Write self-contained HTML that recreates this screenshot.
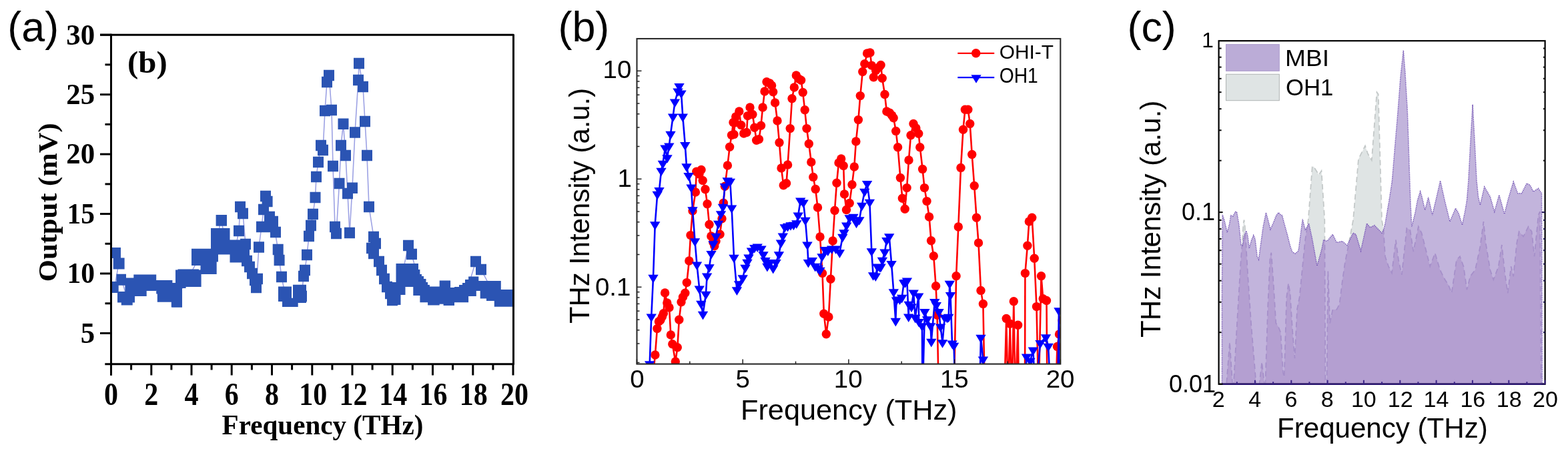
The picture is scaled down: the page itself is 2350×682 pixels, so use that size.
<!DOCTYPE html>
<html><head><meta charset="utf-8"><title>THz spectra</title><style>html,body{margin:0;padding:0;background:#fff;overflow:hidden}svg{display:block;filter:blur(0.5px)}</style></head><body>
<svg width="2350" height="682" viewBox="0 0 2350 682">
<rect width="2350" height="682" fill="#fff"/>
<g id="pa">
<polyline fill="none" stroke="#9da2e4" stroke-width="1.6" points="175,380 178,394 172,430 182,419 190,445 195,427 210,420 226,420 245,437 265,445 282,417 299,385 312,392 325,360 331,330 340,365 352,377 358,346 360,310 364,320 368,366 370,391 374,400 378,410 382,420 386,418 384,431 388,370.5 395,316 398,294 401,304 404,330 412,346 416.7,374 418.6,390 422,415 427,440 437,452 447,450 452,444 455,414 457,405 460,382 463,354 466,338 469,321 472.5,296 474,265 477,243 481,218 484,225 487,166 490,123 493,113 497,165 499,249 502,340 504,350 508.5,275 511,218 514.5,185.6 518,233 521,290 524,349 528,281.6 532,198.5 537,120 538,95 544,130 547,182 550,233 553,310 560,355 563,365 557,372 560,380 568,392 572,405 576,418 580,430 585,440 588,450 600,425 612,368 617,381 630,430 660,440 700,435 713,392 721,404 740,440 760,450"/>
<path fill="#2b54b3" d="M166.5,371H181V387H166.5zM169.7,386.6H186.6V403.5H169.7zM166.5,422H177.7V439H166.5zM174.5,410.8H189V427.7H174.5zM176,437H202V453.5H176zM181.8,453H198.7V457.6H181.8zM187.4,416.5H200.5V440H187.4zM200.3,411.6H234.2V436H200.3zM200.3,436H219.7V443.9H200.3zM234.2,420H258.4V440.6H234.2zM235.8,440H256.8V452.7H235.8zM256.8,424H266V460.5H256.8zM257.7,424H273V460.7H257.7zM263,404.6H278.6V432H263zM278.6,404.6H301.6V430H278.6zM266.5,403.5H298V410H266.5zM287,372.7H311.5V398H287zM300.5,372.7H324.7V411H300.5zM316,342H344.5V381.5H316zM316,381.5H327V392.5H316zM344.5,359.6H362V393.6H344.5zM323.6,322H340V338.7H323.6zM417,429.5H437V452H417zM423,446.7H446.7V460H423zM439,426.7H459V454H439zM584,423H593.5V457H584zM593.5,395H600.5V457H593.5zM600.5,395H607.5V442H600.5zM607.5,395H619.3V430H607.5zM619.3,395H627V443H619.3zM627,404H629.4V443H627zM629.4,411H632V453.3H629.4zM632,414H635V453.3H632zM635,418H638.5V453.3H635zM638.5,423H641.1V453.3H638.5zM641.1,427H644V457.4H641.1zM644,429.5H658.7V457.4H644zM658.7,420.5H664.6V455.7H658.7zM664.6,420.5H675.1V458H664.6zM675.1,431H681V458H675.1zM681,430H688V453.3H681zM688,427H693V453.3H688zM693,424H697V453.3H693zM697,419H702.1V453.3H697zM702.1,414.6H713.8V444H702.1zM713.8,414.6H717.3V436H713.8zM717.3,421H719.7V436H717.3zM719.7,421H729V447.5H719.7zM729,421H740.8V451H729zM740.8,421H750.8V459.8H740.8zM750.8,434H768V459.8H750.8zM352,301.8h16v16.5h-16zM356,311.8h16v16.5h-16zM350,337.8h16v16.5h-16zM360,357.8h16v16.5h-16zM358,369.8h16v16.5h-16zM362,382.8h16v16.5h-16zM366,391.8h16v16.5h-16zM370,401.8h16v16.5h-16zM374,411.8h16v16.5h-16zM378,409.8h16v16.5h-16zM376,422.8h16v16.5h-16zM380,362.3h16v16.5h-16zM390,285.8h16v16.5h-16zM392.6,293.8h16v16.5h-16zM387,305.8h16v16.5h-16zM396,316.8h16v16.5h-16zM401,323.8h16v16.5h-16zM384,331.8h16v16.5h-16zM392,331.8h16v16.5h-16zM405,339.8h16v16.5h-16zM408.7,365.8h16v16.5h-16zM410.6,381.8h16v16.5h-16zM414,406.8h16v16.5h-16zM444,435.8h16v16.5h-16zM447,405.8h16v16.5h-16zM449,396.8h16v16.5h-16zM452,373.8h16v16.5h-16zM455,345.8h16v16.5h-16zM458,329.8h16v16.5h-16zM461,312.8h16v16.5h-16zM464.5,287.8h16v16.5h-16zM466,256.8h16v16.5h-16zM469,234.8h16v16.5h-16zM473,209.8h16v16.5h-16zM476,216.8h16v16.5h-16zM479,157.8h16v16.5h-16zM482,114.8h16v16.5h-16zM485,104.8h16v16.5h-16zM489,156.8h16v16.5h-16zM491,240.8h16v16.5h-16zM494,331.8h16v16.5h-16zM496,341.8h16v16.5h-16zM500.5,266.8h16v16.5h-16zM503,209.8h16v16.5h-16zM506.5,177.4h16v16.5h-16zM510,224.8h16v16.5h-16zM513,281.8h16v16.5h-16zM516,340.8h16v16.5h-16zM520,273.4h16v16.5h-16zM524,190.3h16v16.5h-16zM529,111.8h16v16.5h-16zM530,86.8h16v16.5h-16zM536,121.8h16v16.5h-16zM539,173.8h16v16.5h-16zM542,224.8h16v16.5h-16zM545,301.8h16v16.5h-16zM552,346.8h16v16.5h-16zM555,356.8h16v16.5h-16zM549,363.8h16v16.5h-16zM552,371.8h16v16.5h-16zM560,383.8h16v16.5h-16zM564,396.8h16v16.5h-16zM568,409.8h16v16.5h-16zM572,421.8h16v16.5h-16zM577,431.8h16v16.5h-16zM580,441.8h16v16.5h-16zM604,359.8h16v16.5h-16zM609,372.8h16v16.5h-16zM705,383.8h16v16.5h-16zM713,395.8h16v16.5h-16z"/>
<g stroke="#000" stroke-width="3.0" fill="none">
<path stroke-linejoin="round" d="M150,52.2 H769.5 V545.7 H157.3"/>
<path d="M166.5,50.7 V562.7"/>
<path d="M150,52.2 H166.5"/>
<path d="M157.5,96.9 H166.5"/>
<path d="M150,141.7 H166.5"/>
<path d="M157.5,186.4 H166.5"/>
<path d="M150,231.1 H166.5"/>
<path d="M157.5,275.9 H166.5"/>
<path d="M150,320.6 H166.5"/>
<path d="M157.5,365.3 H166.5"/>
<path d="M150,410 H166.5"/>
<path d="M157.5,454.8 H166.5"/>
<path d="M150,499.5 H166.5"/>
<path d="M166.5,545.7 V562.5"/>
<path d="M196.6,545.7 V554.5"/>
<path d="M226.8,545.7 V562.5"/>
<path d="M256.9,545.7 V554.5"/>
<path d="M287,545.7 V562.5"/>
<path d="M317.1,545.7 V554.5"/>
<path d="M347.2,545.7 V562.5"/>
<path d="M377.4,545.7 V554.5"/>
<path d="M407.5,545.7 V562.5"/>
<path d="M437.6,545.7 V554.5"/>
<path d="M467.8,545.7 V562.5"/>
<path d="M497.9,545.7 V554.5"/>
<path d="M528,545.7 V562.5"/>
<path d="M558.1,545.7 V554.5"/>
<path d="M588.2,545.7 V562.5"/>
<path d="M618.4,545.7 V554.5"/>
<path d="M648.5,545.7 V562.5"/>
<path d="M678.6,545.7 V554.5"/>
<path d="M708.8,545.7 V562.5"/>
<path d="M738.9,545.7 V554.5"/>
<path d="M769,545.7 V562.5"/>
</g>
</g>
<g id="pb">
<clipPath id="cb"><rect x="954.5" y="58" width="634.8" height="487.6"/></clipPath>
<g clip-path="url(#cb)">
<polyline fill="none" stroke="#ff0000" stroke-width="2.6" stroke-linejoin="round" points="977,580 981.9,532 984.9,492.6 987.4,482 989.9,479.7 992.4,474.7 994.4,469.7 996.6,439 999.8,454 1003,461 1005.3,502 1007.8,515.8 1012.3,542 1015.3,520.8 1017.8,479.2 1021,452.8 1023.5,445.3 1026.8,439.3 1029.3,423.6 1032.8,391 1035,352.6 1038,316 1042.4,288 1043.8,257.3 1048,261 1051,254.4 1053.2,270.5 1057,283.7 1060,305.7 1063,336.5 1065.8,354 1068.8,363 1070.8,368.8 1073,361.4 1079,351.2 1082,327.7 1084.3,304.3 1086.4,279.3 1090.4,248 1093.6,220.2 1096.5,202.6 1099,183.5 1100,201.4 1101.5,183.8 1102.7,175 1107.8,167 1110.7,187.4 1114.7,200 1119,198.5 1120.5,173.6 1124,161 1127.9,171.5 1130.8,191.2 1133.7,210.2 1137.5,208.8 1140.5,188.2 1143.1,161 1146,137 1149,122.8 1153.4,124.6 1156.6,128.1 1158.7,137.8 1161.6,154 1165,181 1168,213.8 1171,251.9 1174.2,277.7 1178.6,274.8 1180.6,246.9 1184.2,192.6 1187,147.8 1190.3,131 1193.3,112.9 1196.8,117.9 1200.6,120.2 1203.2,138.4 1206.2,164.8 1209,192.6 1212.3,215.5 1215.8,243 1218.8,265.4 1222.2,283.4 1225.5,311 1229,355 1232.5,409.4 1234.8,470.3 1238.3,500.8 1241.9,475 1244.9,418.3 1248.1,361 1251,315.5 1254,274.2 1257,244 1260.7,238 1264.2,248.4 1265.5,291 1268.5,314.5 1273.2,304.5 1277,276.7 1280.3,250 1282.9,211.9 1286.4,179.6 1289.3,143.6 1292.8,107.5 1295.8,95.8 1299.6,80 1304,79 1306.3,98.1 1309.3,115.7 1312.8,105.5 1317.2,101 1320.1,97.5 1322.2,117.2 1326,141.5 1328.9,167 1333.3,169.1 1336.8,172.9 1339.2,176.7 1342.7,196.4 1345.6,220.7 1349.4,266.4 1352.4,297.2 1356.2,313.3 1359.1,281.6 1362,240 1365,202.8 1369,185.5 1372.9,192 1376.7,200.2 1378.8,220.7 1382.6,253.4 1385.5,281.6 1389,301.6 1392.6,325 1395.5,360.8 1399.3,383.7 1402.6,428.8 1404.6,472.3 1407,600 1429.6,600 1433.1,413.7 1436.3,340 1440,251.4 1443.5,194.2 1446.4,164.3 1450.8,164.3 1453.7,185.4 1456.7,231.5 1460.2,278.4 1463.5,326.2 1466.5,364.1 1470,435.4 1473.4,455.4 1476,600 1505,600 1508.2,477.4 1510.8,600 1513.7,485.3 1516.5,600 1519.3,451.7 1521.7,600 1525.6,487.3 1527,600 1536,600 1536.4,409.6 1539.9,368.2 1542.3,332 1546.7,326.2 1550.2,387.2 1553.5,459.6 1556.5,600 1560.5,413.7 1563.2,447.7 1568.5,450.5 1569.5,600 1582,600 1584.5,519.5 1587.5,501 1592,480"/>
<g fill="#ff0000">
<circle cx="977" cy="580" r="6.7"/>
<circle cx="981.9" cy="532" r="6.7"/>
<circle cx="984.9" cy="492.6" r="6.7"/>
<circle cx="987.4" cy="482" r="6.7"/>
<circle cx="989.9" cy="479.7" r="6.7"/>
<circle cx="992.4" cy="474.7" r="6.7"/>
<circle cx="994.4" cy="469.7" r="6.7"/>
<circle cx="996.6" cy="439" r="6.7"/>
<circle cx="999.8" cy="454" r="6.7"/>
<circle cx="1003" cy="461" r="6.7"/>
<circle cx="1005.3" cy="502" r="6.7"/>
<circle cx="1007.8" cy="515.8" r="6.7"/>
<circle cx="1012.3" cy="542" r="6.7"/>
<circle cx="1015.3" cy="520.8" r="6.7"/>
<circle cx="1017.8" cy="479.2" r="6.7"/>
<circle cx="1021" cy="452.8" r="6.7"/>
<circle cx="1023.5" cy="445.3" r="6.7"/>
<circle cx="1026.8" cy="439.3" r="6.7"/>
<circle cx="1029.3" cy="423.6" r="6.7"/>
<circle cx="1032.8" cy="391" r="6.7"/>
<circle cx="1035" cy="352.6" r="6.7"/>
<circle cx="1038" cy="316" r="6.7"/>
<circle cx="1042.4" cy="288" r="6.7"/>
<circle cx="1043.8" cy="257.3" r="6.7"/>
<circle cx="1048" cy="261" r="6.7"/>
<circle cx="1051" cy="254.4" r="6.7"/>
<circle cx="1053.2" cy="270.5" r="6.7"/>
<circle cx="1057" cy="283.7" r="6.7"/>
<circle cx="1060" cy="305.7" r="6.7"/>
<circle cx="1063" cy="336.5" r="6.7"/>
<circle cx="1065.8" cy="354" r="6.7"/>
<circle cx="1068.8" cy="363" r="6.7"/>
<circle cx="1070.8" cy="368.8" r="6.7"/>
<circle cx="1073" cy="361.4" r="6.7"/>
<circle cx="1079" cy="351.2" r="6.7"/>
<circle cx="1082" cy="327.7" r="6.7"/>
<circle cx="1084.3" cy="304.3" r="6.7"/>
<circle cx="1086.4" cy="279.3" r="6.7"/>
<circle cx="1090.4" cy="248" r="6.7"/>
<circle cx="1093.6" cy="220.2" r="6.7"/>
<circle cx="1096.5" cy="202.6" r="6.7"/>
<circle cx="1099" cy="183.5" r="6.7"/>
<circle cx="1100" cy="201.4" r="6.7"/>
<circle cx="1101.5" cy="183.8" r="6.7"/>
<circle cx="1102.7" cy="175" r="6.7"/>
<circle cx="1107.8" cy="167" r="6.7"/>
<circle cx="1110.7" cy="187.4" r="6.7"/>
<circle cx="1114.7" cy="200" r="6.7"/>
<circle cx="1119" cy="198.5" r="6.7"/>
<circle cx="1120.5" cy="173.6" r="6.7"/>
<circle cx="1124" cy="161" r="6.7"/>
<circle cx="1127.9" cy="171.5" r="6.7"/>
<circle cx="1130.8" cy="191.2" r="6.7"/>
<circle cx="1133.7" cy="210.2" r="6.7"/>
<circle cx="1137.5" cy="208.8" r="6.7"/>
<circle cx="1140.5" cy="188.2" r="6.7"/>
<circle cx="1143.1" cy="161" r="6.7"/>
<circle cx="1146" cy="137" r="6.7"/>
<circle cx="1149" cy="122.8" r="6.7"/>
<circle cx="1153.4" cy="124.6" r="6.7"/>
<circle cx="1156.6" cy="128.1" r="6.7"/>
<circle cx="1158.7" cy="137.8" r="6.7"/>
<circle cx="1161.6" cy="154" r="6.7"/>
<circle cx="1165" cy="181" r="6.7"/>
<circle cx="1168" cy="213.8" r="6.7"/>
<circle cx="1171" cy="251.9" r="6.7"/>
<circle cx="1174.2" cy="277.7" r="6.7"/>
<circle cx="1178.6" cy="274.8" r="6.7"/>
<circle cx="1180.6" cy="246.9" r="6.7"/>
<circle cx="1184.2" cy="192.6" r="6.7"/>
<circle cx="1187" cy="147.8" r="6.7"/>
<circle cx="1190.3" cy="131" r="6.7"/>
<circle cx="1193.3" cy="112.9" r="6.7"/>
<circle cx="1196.8" cy="117.9" r="6.7"/>
<circle cx="1200.6" cy="120.2" r="6.7"/>
<circle cx="1203.2" cy="138.4" r="6.7"/>
<circle cx="1206.2" cy="164.8" r="6.7"/>
<circle cx="1209" cy="192.6" r="6.7"/>
<circle cx="1212.3" cy="215.5" r="6.7"/>
<circle cx="1215.8" cy="243" r="6.7"/>
<circle cx="1218.8" cy="265.4" r="6.7"/>
<circle cx="1222.2" cy="283.4" r="6.7"/>
<circle cx="1225.5" cy="311" r="6.7"/>
<circle cx="1229" cy="355" r="6.7"/>
<circle cx="1232.5" cy="409.4" r="6.7"/>
<circle cx="1234.8" cy="470.3" r="6.7"/>
<circle cx="1238.3" cy="500.8" r="6.7"/>
<circle cx="1241.9" cy="475" r="6.7"/>
<circle cx="1244.9" cy="418.3" r="6.7"/>
<circle cx="1248.1" cy="361" r="6.7"/>
<circle cx="1251" cy="315.5" r="6.7"/>
<circle cx="1254" cy="274.2" r="6.7"/>
<circle cx="1257" cy="244" r="6.7"/>
<circle cx="1260.7" cy="238" r="6.7"/>
<circle cx="1264.2" cy="248.4" r="6.7"/>
<circle cx="1265.5" cy="291" r="6.7"/>
<circle cx="1268.5" cy="314.5" r="6.7"/>
<circle cx="1273.2" cy="304.5" r="6.7"/>
<circle cx="1277" cy="276.7" r="6.7"/>
<circle cx="1280.3" cy="250" r="6.7"/>
<circle cx="1282.9" cy="211.9" r="6.7"/>
<circle cx="1286.4" cy="179.6" r="6.7"/>
<circle cx="1289.3" cy="143.6" r="6.7"/>
<circle cx="1292.8" cy="107.5" r="6.7"/>
<circle cx="1295.8" cy="95.8" r="6.7"/>
<circle cx="1299.6" cy="80" r="6.7"/>
<circle cx="1304" cy="79" r="6.7"/>
<circle cx="1306.3" cy="98.1" r="6.7"/>
<circle cx="1309.3" cy="115.7" r="6.7"/>
<circle cx="1312.8" cy="105.5" r="6.7"/>
<circle cx="1317.2" cy="101" r="6.7"/>
<circle cx="1320.1" cy="97.5" r="6.7"/>
<circle cx="1322.2" cy="117.2" r="6.7"/>
<circle cx="1326" cy="141.5" r="6.7"/>
<circle cx="1328.9" cy="167" r="6.7"/>
<circle cx="1333.3" cy="169.1" r="6.7"/>
<circle cx="1336.8" cy="172.9" r="6.7"/>
<circle cx="1339.2" cy="176.7" r="6.7"/>
<circle cx="1342.7" cy="196.4" r="6.7"/>
<circle cx="1345.6" cy="220.7" r="6.7"/>
<circle cx="1349.4" cy="266.4" r="6.7"/>
<circle cx="1352.4" cy="297.2" r="6.7"/>
<circle cx="1356.2" cy="313.3" r="6.7"/>
<circle cx="1359.1" cy="281.6" r="6.7"/>
<circle cx="1362" cy="240" r="6.7"/>
<circle cx="1365" cy="202.8" r="6.7"/>
<circle cx="1369" cy="185.5" r="6.7"/>
<circle cx="1372.9" cy="192" r="6.7"/>
<circle cx="1376.7" cy="200.2" r="6.7"/>
<circle cx="1378.8" cy="220.7" r="6.7"/>
<circle cx="1382.6" cy="253.4" r="6.7"/>
<circle cx="1385.5" cy="281.6" r="6.7"/>
<circle cx="1389" cy="301.6" r="6.7"/>
<circle cx="1392.6" cy="325" r="6.7"/>
<circle cx="1395.5" cy="360.8" r="6.7"/>
<circle cx="1399.3" cy="383.7" r="6.7"/>
<circle cx="1402.6" cy="428.8" r="6.7"/>
<circle cx="1404.6" cy="472.3" r="6.7"/>
<circle cx="1433.1" cy="413.7" r="6.7"/>
<circle cx="1436.3" cy="340" r="6.7"/>
<circle cx="1440" cy="251.4" r="6.7"/>
<circle cx="1443.5" cy="194.2" r="6.7"/>
<circle cx="1446.4" cy="164.3" r="6.7"/>
<circle cx="1450.8" cy="164.3" r="6.7"/>
<circle cx="1453.7" cy="185.4" r="6.7"/>
<circle cx="1456.7" cy="231.5" r="6.7"/>
<circle cx="1460.2" cy="278.4" r="6.7"/>
<circle cx="1463.5" cy="326.2" r="6.7"/>
<circle cx="1466.5" cy="364.1" r="6.7"/>
<circle cx="1470" cy="435.4" r="6.7"/>
<circle cx="1473.4" cy="455.4" r="6.7"/>
<circle cx="1508.2" cy="477.4" r="6.7"/>
<circle cx="1513.7" cy="485.3" r="6.7"/>
<circle cx="1519.3" cy="451.7" r="6.7"/>
<circle cx="1525.6" cy="487.3" r="6.7"/>
<circle cx="1536.4" cy="409.6" r="6.7"/>
<circle cx="1539.9" cy="368.2" r="6.7"/>
<circle cx="1542.3" cy="332" r="6.7"/>
<circle cx="1546.7" cy="326.2" r="6.7"/>
<circle cx="1550.2" cy="387.2" r="6.7"/>
<circle cx="1553.5" cy="459.6" r="6.7"/>
<circle cx="1560.5" cy="413.7" r="6.7"/>
<circle cx="1563.2" cy="447.7" r="6.7"/>
<circle cx="1568.5" cy="450.5" r="6.7"/>
<circle cx="1584.5" cy="519.5" r="6.7"/>
<circle cx="1587.5" cy="501" r="6.7"/>
<circle cx="1592" cy="480" r="6.7"/>
</g>
<polyline fill="none" stroke="#0000ff" stroke-width="2.6" stroke-linejoin="round" points="973.7,545.5 976.2,474.7 979,416 981.7,336.5 985.2,291 988,285.2 991,255.9 993.4,245 997,221.7 1000,236.4 1002.8,218.7 1005,201 1008.6,174.8 1011.5,152.8 1016,136.6 1018,129.3 1021,139.6 1023.3,174.8 1026.8,217.3 1029,249.5 1032,263.2 1036,280.8 1038,314.5 1041.5,361.4 1044.5,396.8 1048.2,432.8 1050.8,455 1053.5,471 1057.9,441 1059.6,413.7 1063,400.5 1066,380.2 1069,365.5 1073,354 1076.7,335 1080.5,320.4 1083.4,310 1086.4,279.3 1090.2,270.5 1094.3,272 1096.6,311.6 1100,386 1104.4,434.5 1107.5,425.4 1113.2,416.5 1117,401 1120,393 1122,385.8 1126.4,375.6 1130.8,371.2 1135.2,369.7 1141,372.6 1144,381.4 1147,390.2 1149.9,399 1154.3,393.2 1158.7,402 1163,393.2 1167.4,381.4 1170.4,363.8 1173.3,353.6 1176.2,340.4 1180.6,339 1185,337.4 1189.4,336.9 1193.8,334.5 1196.2,322.8 1199.7,300.8 1204.1,303.7 1207,330 1210,366.8 1211.4,393.2 1217.3,390.2 1221.7,399 1226.1,402 1229,405 1232,384.4 1236.4,374.1 1240.8,375.6 1246.6,372.6 1252.5,372.6 1258.4,378.5 1262.8,355 1265,348.5 1268.7,337.8 1273.2,326.5 1279,325 1283.5,333.8 1287.9,329.4 1291.7,308 1295.8,286.9 1299.6,275.2 1303.4,303 1306.3,376.4 1308.6,412.4 1312.3,413.7 1315.1,399.8 1318.6,400 1320.1,399.8 1322.4,390 1326,377.8 1328.9,360.2 1332.7,354.4 1336.1,395.2 1339.3,437.4 1342.3,481 1343.5,449.8 1348.5,448.6 1351.7,446 1354.7,423.6 1356.8,423.3 1359.4,420.8 1361.7,474.7 1362.2,456 1366,459.8 1369.2,438.6 1371.7,476 1376.7,443.6 1377.1,482.2 1382,488.5 1382.5,600 1385.9,467.3 1389.6,478.5 1394.6,488.5 1395.8,512 1400.8,452.3 1403.3,457.3 1407,467.3 1409.6,489.7 1412.5,513.4 1415.8,476 1419.5,476 1421.7,475 1423.3,425 1424.5,442.3 1427,514.6 1429.6,518 1432,600 1468,600 1470,506 1473.4,538.7 1476,600 1535,600 1538.5,534.7 1544,541 1548.4,524.8 1552,600 1555,560 1559,514.3 1567.5,505.5 1571.1,519 1575,600 1585,600 1587,465.5 1587.5,600"/>
<path fill="#0000ff" d="M966,541.3h15.4l-7.7,12.6zM968.5,470.5h15.4l-7.7,12.6zM971.3,411.8h15.4l-7.7,12.6zM974,332.3h15.4l-7.7,12.6zM977.5,286.8h15.4l-7.7,12.6zM980.3,281h15.4l-7.7,12.6zM983.3,251.7h15.4l-7.7,12.6zM985.7,240.8h15.4l-7.7,12.6zM989.3,217.5h15.4l-7.7,12.6zM992.3,232.2h15.4l-7.7,12.6zM995.1,214.5h15.4l-7.7,12.6zM997.3,196.8h15.4l-7.7,12.6zM1000.9,170.6h15.4l-7.7,12.6zM1003.8,148.6h15.4l-7.7,12.6zM1008.3,132.4h15.4l-7.7,12.6zM1010.3,125.1h15.4l-7.7,12.6zM1013.3,135.4h15.4l-7.7,12.6zM1015.6,170.6h15.4l-7.7,12.6zM1019.1,213.1h15.4l-7.7,12.6zM1021.3,245.3h15.4l-7.7,12.6zM1024.3,259h15.4l-7.7,12.6zM1028.3,276.6h15.4l-7.7,12.6zM1030.3,310.3h15.4l-7.7,12.6zM1033.8,357.2h15.4l-7.7,12.6zM1036.8,392.6h15.4l-7.7,12.6zM1040.5,428.6h15.4l-7.7,12.6zM1043.1,450.8h15.4l-7.7,12.6zM1045.8,466.8h15.4l-7.7,12.6zM1050.2,436.8h15.4l-7.7,12.6zM1051.9,409.5h15.4l-7.7,12.6zM1055.3,396.3h15.4l-7.7,12.6zM1058.3,376h15.4l-7.7,12.6zM1061.3,361.3h15.4l-7.7,12.6zM1065.3,349.8h15.4l-7.7,12.6zM1069,330.8h15.4l-7.7,12.6zM1072.8,316.2h15.4l-7.7,12.6zM1075.7,305.8h15.4l-7.7,12.6zM1078.7,275.1h15.4l-7.7,12.6zM1082.5,266.3h15.4l-7.7,12.6zM1086.6,267.8h15.4l-7.7,12.6zM1088.9,307.4h15.4l-7.7,12.6zM1092.3,381.8h15.4l-7.7,12.6zM1096.7,430.3h15.4l-7.7,12.6zM1099.8,421.2h15.4l-7.7,12.6zM1105.5,412.3h15.4l-7.7,12.6zM1109.3,396.8h15.4l-7.7,12.6zM1112.3,388.8h15.4l-7.7,12.6zM1114.3,381.6h15.4l-7.7,12.6zM1118.7,371.4h15.4l-7.7,12.6zM1123.1,367h15.4l-7.7,12.6zM1127.5,365.5h15.4l-7.7,12.6zM1133.3,368.4h15.4l-7.7,12.6zM1136.3,377.2h15.4l-7.7,12.6zM1139.3,386h15.4l-7.7,12.6zM1142.2,394.8h15.4l-7.7,12.6zM1146.6,389h15.4l-7.7,12.6zM1151,397.8h15.4l-7.7,12.6zM1155.3,389h15.4l-7.7,12.6zM1159.7,377.2h15.4l-7.7,12.6zM1162.7,359.6h15.4l-7.7,12.6zM1165.6,349.4h15.4l-7.7,12.6zM1168.5,336.2h15.4l-7.7,12.6zM1172.9,334.8h15.4l-7.7,12.6zM1177.3,333.2h15.4l-7.7,12.6zM1181.7,332.7h15.4l-7.7,12.6zM1186.1,330.3h15.4l-7.7,12.6zM1188.5,318.6h15.4l-7.7,12.6zM1192,296.6h15.4l-7.7,12.6zM1196.4,299.5h15.4l-7.7,12.6zM1199.3,325.8h15.4l-7.7,12.6zM1202.3,362.6h15.4l-7.7,12.6zM1203.7,389h15.4l-7.7,12.6zM1209.6,386h15.4l-7.7,12.6zM1214,394.8h15.4l-7.7,12.6zM1218.4,397.8h15.4l-7.7,12.6zM1221.3,400.8h15.4l-7.7,12.6zM1224.3,380.2h15.4l-7.7,12.6zM1228.7,369.9h15.4l-7.7,12.6zM1233.1,371.4h15.4l-7.7,12.6zM1238.9,368.4h15.4l-7.7,12.6zM1244.8,368.4h15.4l-7.7,12.6zM1250.7,374.3h15.4l-7.7,12.6zM1255.1,350.8h15.4l-7.7,12.6zM1257.3,344.3h15.4l-7.7,12.6zM1261,333.6h15.4l-7.7,12.6zM1265.5,322.3h15.4l-7.7,12.6zM1271.3,320.8h15.4l-7.7,12.6zM1275.8,329.6h15.4l-7.7,12.6zM1280.2,325.2h15.4l-7.7,12.6zM1284,303.8h15.4l-7.7,12.6zM1288.1,282.7h15.4l-7.7,12.6zM1291.9,271h15.4l-7.7,12.6zM1295.7,298.8h15.4l-7.7,12.6zM1298.6,372.2h15.4l-7.7,12.6zM1300.9,408.2h15.4l-7.7,12.6zM1304.6,409.5h15.4l-7.7,12.6zM1307.4,395.6h15.4l-7.7,12.6zM1310.9,395.8h15.4l-7.7,12.6zM1312.4,395.6h15.4l-7.7,12.6zM1314.7,385.8h15.4l-7.7,12.6zM1318.3,373.6h15.4l-7.7,12.6zM1321.2,356h15.4l-7.7,12.6zM1325,350.2h15.4l-7.7,12.6zM1328.4,391h15.4l-7.7,12.6zM1331.6,433.2h15.4l-7.7,12.6zM1334.6,476.8h15.4l-7.7,12.6zM1335.8,445.6h15.4l-7.7,12.6zM1340.8,444.4h15.4l-7.7,12.6zM1344,441.8h15.4l-7.7,12.6zM1347,419.4h15.4l-7.7,12.6zM1349.1,419.1h15.4l-7.7,12.6zM1351.7,416.6h15.4l-7.7,12.6zM1354,470.5h15.4l-7.7,12.6zM1354.5,451.8h15.4l-7.7,12.6zM1358.3,455.6h15.4l-7.7,12.6zM1361.5,434.4h15.4l-7.7,12.6zM1364,471.8h15.4l-7.7,12.6zM1369,439.4h15.4l-7.7,12.6zM1369.4,478h15.4l-7.7,12.6zM1374.3,484.3h15.4l-7.7,12.6zM1378.2,463.1h15.4l-7.7,12.6zM1381.9,474.3h15.4l-7.7,12.6zM1386.9,484.3h15.4l-7.7,12.6zM1388.1,507.8h15.4l-7.7,12.6zM1393.1,448.1h15.4l-7.7,12.6zM1395.6,453.1h15.4l-7.7,12.6zM1399.3,463.1h15.4l-7.7,12.6zM1401.9,485.5h15.4l-7.7,12.6zM1404.8,509.2h15.4l-7.7,12.6zM1408.1,471.8h15.4l-7.7,12.6zM1411.8,471.8h15.4l-7.7,12.6zM1414,470.8h15.4l-7.7,12.6zM1415.6,420.8h15.4l-7.7,12.6zM1416.8,438.1h15.4l-7.7,12.6zM1419.3,510.4h15.4l-7.7,12.6zM1421.9,513.8h15.4l-7.7,12.6zM1462.3,501.8h15.4l-7.7,12.6zM1465.7,534.5h15.4l-7.7,12.6zM1530.8,530.5h15.4l-7.7,12.6zM1536.3,536.8h15.4l-7.7,12.6zM1540.7,520.6h15.4l-7.7,12.6zM1547.3,555.8h15.4l-7.7,12.6zM1551.3,510.1h15.4l-7.7,12.6zM1559.8,501.3h15.4l-7.7,12.6zM1563.4,514.8h15.4l-7.7,12.6zM1579.3,461.3h15.4l-7.7,12.6z"/>
</g>
<rect x="954.5" y="58" width="634.8" height="487.6" fill="none" stroke="#2b2b2b" stroke-width="2.1"/>
<g stroke="#222" stroke-width="1.5" fill="none">
<path d="M954.5,543.5 h4"/>
<path d="M954.5,515 h4"/>
<path d="M954.5,494.8 h4"/>
<path d="M954.5,479.1 h4"/>
<path d="M954.5,466.2 h4"/>
<path d="M954.5,455.4 h4"/>
<path d="M954.5,446 h4"/>
<path d="M954.5,437.7 h4"/>
<path d="M954.5,430.3 h7"/>
<path d="M954.5,381.5 h4"/>
<path d="M954.5,353 h4"/>
<path d="M954.5,332.8 h4"/>
<path d="M954.5,317.1 h4"/>
<path d="M954.5,304.2 h4"/>
<path d="M954.5,293.4 h4"/>
<path d="M954.5,284 h4"/>
<path d="M954.5,275.7 h4"/>
<path d="M954.5,268.3 h7"/>
<path d="M954.5,219.5 h4"/>
<path d="M954.5,191 h4"/>
<path d="M954.5,170.8 h4"/>
<path d="M954.5,155.1 h4"/>
<path d="M954.5,142.2 h4"/>
<path d="M954.5,131.4 h4"/>
<path d="M954.5,122 h4"/>
<path d="M954.5,113.7 h4"/>
<path d="M954.5,106.3 h7"/>
<path d="M954.5,545.6 v-7"/>
<path d="M1033.8,545.6 v-4"/>
<path d="M1113.2,545.6 v-7"/>
<path d="M1192.5,545.6 v-4"/>
<path d="M1271.9,545.6 v-7"/>
<path d="M1351.2,545.6 v-4"/>
<path d="M1430.6,545.6 v-7"/>
<path d="M1510,545.6 v-4"/>
<path d="M1589.3,545.6 v-7"/>
</g>
<path d="M1435.3,79.8 H1490.2" stroke="#ff0000" stroke-width="2.2"/>
<circle cx="1462.7" cy="79.8" r="6.8" fill="#ff0000"/>
<path d="M1435.3,116.1 H1490.2" stroke="#0000ff" stroke-width="2.2"/>
<path fill="#0000ff" d="M1455.4,112.3h15.3l-7.7,12.4z"/>
</g>
<g id="pc">
<clipPath id="cc"><rect x="1826.6" y="61.2" width="489" height="515.6"/></clipPath>
<clipPath id="cm"><polygon points="1831.5,620 1831.5,439.5 1832.2,321.9 1834.8,329.6 1839.2,348.2 1842.5,336 1844.7,323 1848,324 1851.3,317.5 1853.5,317.5 1856.8,336 1860,367 1862.3,368 1864.5,353.7 1867.8,346 1870,353.7 1872.2,372.4 1875.5,360.3 1878.7,352.6 1881,358 1884.2,384.5 1886.4,389 1889.7,364.7 1893,340.5 1897.4,318.6 1900.7,330.7 1904,343.8 1908.4,334 1912.8,323 1916.1,318.6 1919.4,321.9 1921.6,323 1925,336 1929.3,351.5 1933.7,369.1 1937,378 1941.4,380 1946,376 1952.2,328.7 1956.3,345 1961.6,334.9 1966.5,357.4 1973.9,398.4 1980.9,373.8 1983.7,359.5 1989,361.5 1997.3,351.3 2003.4,363.6 2011.6,361.5 2019,367.7 2028,349.2 2032.1,351.3 2039.5,375.9 2048.5,334.9 2053.5,341 2060,337.7 2065,343 2071,349.2 2073.5,344.6 2076,335 2082,300 2086.4,271.2 2091,215 2095.2,165.6 2099,115 2103.3,75.8 2106,110 2109.3,165.6 2111,215 2112.8,271.2 2114,305 2115.8,339.6 2120.8,319.7 2124.5,300 2128.6,287 2131,295 2135.7,314.7 2140.7,295.8 2146.7,322.2 2153.2,294.8 2158.6,270.9 2165.6,302.3 2173,332 2181.5,312.2 2186,319.7 2191.5,337 2196,315 2198.5,299.8 2200.8,271.2 2204,210 2207.1,156.8 2210,210 2213.1,271.2 2215.5,295 2218.4,307.2 2224.7,280 2233.3,294.8 2239.8,317.2 2246.8,292.3 2254.7,320.7 2260.7,297.3 2268.2,272.4 2274.7,289.8 2280.6,289.8 2288.1,274.9 2293.1,277.4 2298,287.3 2305.6,282.3 2310.5,289.8 2311.5,620"/></clipPath>
<g clip-path="url(#cc)">
<polygon fill="#dfe4e4" points="1831,620 1837,620 1838.3,574 1843,512.7 1847,574 1847.5,620 1849,574 1854.2,481 1859.5,392.9 1861.5,368 1863.5,335 1864.5,329.6 1865.5,335 1867.5,368 1870,410.5 1875.3,488 1880.6,551.4 1882.4,574 1884,620 1887.7,574 1891.2,542.6 1894.7,574 1895.5,620 1896.5,574 1900,463.3 1903.5,385.8 1905.3,378.8 1908.8,428 1912.3,484.5 1915.9,489.7 1919.4,498.6 1922.9,558.5 1924.7,565.5 1928.2,445.7 1931,424.6 1933.5,438.7 1937,495 1940.5,537.3 1944,463.3 1947.6,445.7 1952.8,392.9 1956,361 1960.7,330 1966.7,250.2 1968.7,249.4 1976.6,262 1980.5,256 1985.3,330 1986.5,620 1988,620 1990.3,406.6 1993.2,484.6 1997.3,464 2003.4,464 2007.5,455.9 2011.6,423 2015.7,394.3 2019.8,373.8 2028,330 2036,238.3 2046,218.5 2050,230.4 2055.8,240.3 2063.5,138.1 2065.7,141.2 2071,330 2073.5,344.6 2076,384.4 2081,399.4 2086,409.3 2091.9,359.5 2095.9,389.4 2100.9,411.8 2108.3,342 2113.3,344.6 2118.3,377 2125.8,339.6 2130.7,349.6 2138.2,379.4 2143.2,399.4 2150.7,379.4 2158.1,404.3 2165.6,419.3 2170.6,426.7 2175.6,439.2 2183,389.4 2188,384.4 2193.5,399.4 2198.5,434.3 2203.4,414.3 2211,404.4 2218.4,369.5 2223.4,332.2 2226.8,364.5 2233.3,404.4 2238.3,419.3 2245.8,399.4 2250.8,367 2255.7,411.9 2259.7,439.3 2264.7,399.4 2268.2,414.3 2273.2,364.5 2276.6,347.1 2283.1,354.6 2290.6,339.6 2295.6,347.1 2299.6,384.5 2305.6,322.2 2308,317.2 2309.5,563.8 2310,620"/>
<polyline fill="none" stroke="#c2c7c7" stroke-width="1.7" stroke-dasharray="8,5" points="1831,620 1837,620 1838.3,574 1843,512.7 1847,574 1847.5,620 1849,574 1854.2,481 1859.5,392.9 1861.5,368 1863.5,335 1864.5,329.6 1865.5,335 1867.5,368 1870,410.5 1875.3,488 1880.6,551.4 1882.4,574 1884,620 1887.7,574 1891.2,542.6 1894.7,574 1895.5,620 1896.5,574 1900,463.3 1903.5,385.8 1905.3,378.8 1908.8,428 1912.3,484.5 1915.9,489.7 1919.4,498.6 1922.9,558.5 1924.7,565.5 1928.2,445.7 1931,424.6 1933.5,438.7 1937,495 1940.5,537.3 1944,463.3 1947.6,445.7 1952.8,392.9 1956,361 1960.7,330 1966.7,250.2 1968.7,249.4 1976.6,262 1980.5,256 1985.3,330 1986.5,620 1988,620 1990.3,406.6 1993.2,484.6 1997.3,464 2003.4,464 2007.5,455.9 2011.6,423 2015.7,394.3 2019.8,373.8 2028,330 2036,238.3 2046,218.5 2050,230.4 2055.8,240.3 2063.5,138.1 2065.7,141.2 2071,330 2073.5,344.6 2076,384.4 2081,399.4 2086,409.3 2091.9,359.5 2095.9,389.4 2100.9,411.8 2108.3,342 2113.3,344.6 2118.3,377 2125.8,339.6 2130.7,349.6 2138.2,379.4 2143.2,399.4 2150.7,379.4 2158.1,404.3 2165.6,419.3 2170.6,426.7 2175.6,439.2 2183,389.4 2188,384.4 2193.5,399.4 2198.5,434.3 2203.4,414.3 2211,404.4 2218.4,369.5 2223.4,332.2 2226.8,364.5 2233.3,404.4 2238.3,419.3 2245.8,399.4 2250.8,367 2255.7,411.9 2259.7,439.3 2264.7,399.4 2268.2,414.3 2273.2,364.5 2276.6,347.1 2283.1,354.6 2290.6,339.6 2295.6,347.1 2299.6,384.5 2305.6,322.2 2308,317.2 2309.5,563.8 2310,620"/>
<polygon fill="#c2b4dc" points="1831.5,620 1831.5,439.5 1832.2,321.9 1834.8,329.6 1839.2,348.2 1842.5,336 1844.7,323 1848,324 1851.3,317.5 1853.5,317.5 1856.8,336 1860,367 1862.3,368 1864.5,353.7 1867.8,346 1870,353.7 1872.2,372.4 1875.5,360.3 1878.7,352.6 1881,358 1884.2,384.5 1886.4,389 1889.7,364.7 1893,340.5 1897.4,318.6 1900.7,330.7 1904,343.8 1908.4,334 1912.8,323 1916.1,318.6 1919.4,321.9 1921.6,323 1925,336 1929.3,351.5 1933.7,369.1 1937,378 1941.4,380 1946,376 1952.2,328.7 1956.3,345 1961.6,334.9 1966.5,357.4 1973.9,398.4 1980.9,373.8 1983.7,359.5 1989,361.5 1997.3,351.3 2003.4,363.6 2011.6,361.5 2019,367.7 2028,349.2 2032.1,351.3 2039.5,375.9 2048.5,334.9 2053.5,341 2060,337.7 2065,343 2071,349.2 2073.5,344.6 2076,335 2082,300 2086.4,271.2 2091,215 2095.2,165.6 2099,115 2103.3,75.8 2106,110 2109.3,165.6 2111,215 2112.8,271.2 2114,305 2115.8,339.6 2120.8,319.7 2124.5,300 2128.6,287 2131,295 2135.7,314.7 2140.7,295.8 2146.7,322.2 2153.2,294.8 2158.6,270.9 2165.6,302.3 2173,332 2181.5,312.2 2186,319.7 2191.5,337 2196,315 2198.5,299.8 2200.8,271.2 2204,210 2207.1,156.8 2210,210 2213.1,271.2 2215.5,295 2218.4,307.2 2224.7,280 2233.3,294.8 2239.8,317.2 2246.8,292.3 2254.7,320.7 2260.7,297.3 2268.2,272.4 2274.7,289.8 2280.6,289.8 2288.1,274.9 2293.1,277.4 2298,287.3 2305.6,282.3 2310.5,289.8 2311.5,620"/>
<polygon fill="#b49fd1" clip-path="url(#cm)" points="1831,620 1837,620 1838.3,574 1843,512.7 1847,574 1847.5,620 1849,574 1854.2,481 1859.5,392.9 1861.5,368 1863.5,335 1864.5,329.6 1865.5,335 1867.5,368 1870,410.5 1875.3,488 1880.6,551.4 1882.4,574 1884,620 1887.7,574 1891.2,542.6 1894.7,574 1895.5,620 1896.5,574 1900,463.3 1903.5,385.8 1905.3,378.8 1908.8,428 1912.3,484.5 1915.9,489.7 1919.4,498.6 1922.9,558.5 1924.7,565.5 1928.2,445.7 1931,424.6 1933.5,438.7 1937,495 1940.5,537.3 1944,463.3 1947.6,445.7 1952.8,392.9 1956,361 1960.7,330 1966.7,250.2 1968.7,249.4 1976.6,262 1980.5,256 1985.3,330 1986.5,620 1988,620 1990.3,406.6 1993.2,484.6 1997.3,464 2003.4,464 2007.5,455.9 2011.6,423 2015.7,394.3 2019.8,373.8 2028,330 2036,238.3 2046,218.5 2050,230.4 2055.8,240.3 2063.5,138.1 2065.7,141.2 2071,330 2073.5,344.6 2076,384.4 2081,399.4 2086,409.3 2091.9,359.5 2095.9,389.4 2100.9,411.8 2108.3,342 2113.3,344.6 2118.3,377 2125.8,339.6 2130.7,349.6 2138.2,379.4 2143.2,399.4 2150.7,379.4 2158.1,404.3 2165.6,419.3 2170.6,426.7 2175.6,439.2 2183,389.4 2188,384.4 2193.5,399.4 2198.5,434.3 2203.4,414.3 2211,404.4 2218.4,369.5 2223.4,332.2 2226.8,364.5 2233.3,404.4 2238.3,419.3 2245.8,399.4 2250.8,367 2255.7,411.9 2259.7,439.3 2264.7,399.4 2268.2,414.3 2273.2,364.5 2276.6,347.1 2283.1,354.6 2290.6,339.6 2295.6,347.1 2299.6,384.5 2305.6,322.2 2308,317.2 2309.5,563.8 2310,620"/>
<polyline fill="none" clip-path="url(#cm)" stroke="#a58fc9" stroke-width="1.7" stroke-dasharray="8,5" points="1831,620 1837,620 1838.3,574 1843,512.7 1847,574 1847.5,620 1849,574 1854.2,481 1859.5,392.9 1861.5,368 1863.5,335 1864.5,329.6 1865.5,335 1867.5,368 1870,410.5 1875.3,488 1880.6,551.4 1882.4,574 1884,620 1887.7,574 1891.2,542.6 1894.7,574 1895.5,620 1896.5,574 1900,463.3 1903.5,385.8 1905.3,378.8 1908.8,428 1912.3,484.5 1915.9,489.7 1919.4,498.6 1922.9,558.5 1924.7,565.5 1928.2,445.7 1931,424.6 1933.5,438.7 1937,495 1940.5,537.3 1944,463.3 1947.6,445.7 1952.8,392.9 1956,361 1960.7,330 1966.7,250.2 1968.7,249.4 1976.6,262 1980.5,256 1985.3,330 1986.5,620 1988,620 1990.3,406.6 1993.2,484.6 1997.3,464 2003.4,464 2007.5,455.9 2011.6,423 2015.7,394.3 2019.8,373.8 2028,330 2036,238.3 2046,218.5 2050,230.4 2055.8,240.3 2063.5,138.1 2065.7,141.2 2071,330 2073.5,344.6 2076,384.4 2081,399.4 2086,409.3 2091.9,359.5 2095.9,389.4 2100.9,411.8 2108.3,342 2113.3,344.6 2118.3,377 2125.8,339.6 2130.7,349.6 2138.2,379.4 2143.2,399.4 2150.7,379.4 2158.1,404.3 2165.6,419.3 2170.6,426.7 2175.6,439.2 2183,389.4 2188,384.4 2193.5,399.4 2198.5,434.3 2203.4,414.3 2211,404.4 2218.4,369.5 2223.4,332.2 2226.8,364.5 2233.3,404.4 2238.3,419.3 2245.8,399.4 2250.8,367 2255.7,411.9 2259.7,439.3 2264.7,399.4 2268.2,414.3 2273.2,364.5 2276.6,347.1 2283.1,354.6 2290.6,339.6 2295.6,347.1 2299.6,384.5 2305.6,322.2 2308,317.2 2309.5,563.8 2310,620"/>
<polyline fill="none" stroke="#7556b5" stroke-width="1.5" stroke-dasharray="1.4,1.3" points="1831.5,620 1831.5,439.5 1832.2,321.9 1834.8,329.6 1839.2,348.2 1842.5,336 1844.7,323 1848,324 1851.3,317.5 1853.5,317.5 1856.8,336 1860,367 1862.3,368 1864.5,353.7 1867.8,346 1870,353.7 1872.2,372.4 1875.5,360.3 1878.7,352.6 1881,358 1884.2,384.5 1886.4,389 1889.7,364.7 1893,340.5 1897.4,318.6 1900.7,330.7 1904,343.8 1908.4,334 1912.8,323 1916.1,318.6 1919.4,321.9 1921.6,323 1925,336 1929.3,351.5 1933.7,369.1 1937,378 1941.4,380 1946,376 1952.2,328.7 1956.3,345 1961.6,334.9 1966.5,357.4 1973.9,398.4 1980.9,373.8 1983.7,359.5 1989,361.5 1997.3,351.3 2003.4,363.6 2011.6,361.5 2019,367.7 2028,349.2 2032.1,351.3 2039.5,375.9 2048.5,334.9 2053.5,341 2060,337.7 2065,343 2071,349.2 2073.5,344.6 2076,335 2082,300 2086.4,271.2 2091,215 2095.2,165.6 2099,115 2103.3,75.8 2106,110 2109.3,165.6 2111,215 2112.8,271.2 2114,305 2115.8,339.6 2120.8,319.7 2124.5,300 2128.6,287 2131,295 2135.7,314.7 2140.7,295.8 2146.7,322.2 2153.2,294.8 2158.6,270.9 2165.6,302.3 2173,332 2181.5,312.2 2186,319.7 2191.5,337 2196,315 2198.5,299.8 2200.8,271.2 2204,210 2207.1,156.8 2210,210 2213.1,271.2 2215.5,295 2218.4,307.2 2224.7,280 2233.3,294.8 2239.8,317.2 2246.8,292.3 2254.7,320.7 2260.7,297.3 2268.2,272.4 2274.7,289.8 2280.6,289.8 2288.1,274.9 2293.1,277.4 2298,287.3 2305.6,282.3 2310.5,289.8 2311.5,620"/>
</g>
<rect x="1826.6" y="61.2" width="489" height="514.6" fill="none" stroke="#000" stroke-width="2.2"/>
<path d="M1831,575.8 H2314.6" stroke="#2a1670" stroke-width="2.6"/>
<g stroke="#000" stroke-width="2" fill="none">
<path d="M1826.6,575.7 h6"/>
<path d="M1826.6,498.2 h4"/>
<path d="M1826.6,452.8 h4"/>
<path d="M1826.6,420.7 h4"/>
<path d="M1826.6,395.7 h4"/>
<path d="M1826.6,375.3 h4"/>
<path d="M1826.6,358.1 h4"/>
<path d="M1826.6,343.2 h4"/>
<path d="M1826.6,330 h4"/>
<path d="M1826.6,318.2 h6"/>
<path d="M1826.6,240.7 h4"/>
<path d="M1826.6,195.3 h4"/>
<path d="M1826.6,163.2 h4"/>
<path d="M1826.6,138.2 h4"/>
<path d="M1826.6,117.8 h4"/>
<path d="M1826.6,100.6 h4"/>
<path d="M1826.6,85.7 h4"/>
<path d="M1826.6,72.5 h4"/>
<path stroke="#1c1050" d="M2315.6,575.7 h-4.8"/>
<path stroke="#1c1050" d="M2315.6,498.2 h-2.6"/>
<path stroke="#1c1050" d="M2315.6,452.8 h-2.6"/>
<path stroke="#1c1050" d="M2315.6,420.7 h-2.6"/>
<path stroke="#1c1050" d="M2315.6,395.7 h-2.6"/>
<path stroke="#1c1050" d="M2315.6,375.3 h-2.6"/>
<path stroke="#1c1050" d="M2315.6,358.1 h-2.6"/>
<path stroke="#1c1050" d="M2315.6,343.2 h-2.6"/>
<path stroke="#1c1050" d="M2315.6,330 h-2.6"/>
<path stroke="#1c1050" d="M2315.6,318.2 h-4.8"/>
<path stroke="#000" d="M2315.6,240.7 h-2.6"/>
<path stroke="#000" d="M2315.6,195.3 h-2.6"/>
<path stroke="#000" d="M2315.6,163.2 h-2.6"/>
<path stroke="#000" d="M2315.6,138.2 h-2.6"/>
<path stroke="#000" d="M2315.6,117.8 h-2.6"/>
<path stroke="#000" d="M2315.6,100.6 h-2.6"/>
<path stroke="#000" d="M2315.6,85.7 h-2.6"/>
<path stroke="#000" d="M2315.6,72.5 h-2.6"/>
</g>
<g stroke="#3b2487" stroke-width="2" fill="none">
<path d="M1853.8,575.8 v-3.5"/>
<path d="M1880.9,575.8 v-6"/>
<path d="M1908.1,575.8 v-3.5"/>
<path d="M1935.3,575.8 v-6"/>
<path d="M1962.4,575.8 v-3.5"/>
<path d="M1989.6,575.8 v-6"/>
<path d="M2016.8,575.8 v-3.5"/>
<path d="M2043.9,575.8 v-6"/>
<path d="M2071.1,575.8 v-3.5"/>
<path d="M2098.3,575.8 v-6"/>
<path d="M2125.4,575.8 v-3.5"/>
<path d="M2152.6,575.8 v-6"/>
<path d="M2179.8,575.8 v-3.5"/>
<path d="M2206.9,575.8 v-6"/>
<path d="M2234.1,575.8 v-3.5"/>
<path d="M2261.3,575.8 v-6"/>
<path d="M2288.4,575.8 v-3.5"/>
<path d="M2315.6,575.8 v-6"/>
</g>
<rect x="1837.5" y="66.6" width="79.8" height="39.8" fill="#bbacd7" stroke="#ad9ccd" stroke-width="1"/>
<rect x="1837.5" y="111.3" width="79.8" height="39.4" fill="#dfe4e4" stroke="#aeb3b3" stroke-width="1"/>
</g>
<g fill="#000">
<text transform="translate(99.25,66.50) scale(0.9750,1.0000)" font-family="Liberation Serif, serif" font-weight="bold" font-size="44">30</text>
<text transform="translate(99.25,155.96) scale(0.9750,1.0000)" font-family="Liberation Serif, serif" font-weight="bold" font-size="44">25</text>
<text transform="translate(99.25,245.42) scale(0.9750,1.0000)" font-family="Liberation Serif, serif" font-weight="bold" font-size="44">20</text>
<text transform="translate(100.51,334.88) scale(0.9450,1.0000)" font-family="Liberation Serif, serif" font-weight="bold" font-size="44">15</text>
<text transform="translate(100.51,424.34) scale(0.9450,1.0000)" font-family="Liberation Serif, serif" font-weight="bold" font-size="44">10</text>
<text transform="translate(120.70,513.80) scale(0.9750,1.0000)" font-family="Liberation Serif, serif" font-weight="bold" font-size="44">5</text>
<text transform="translate(156.00,606.60) scale(1.0000,1.1600)" font-family="Liberation Serif, serif" font-weight="bold" font-size="42">0</text>
<text transform="translate(216.25,606.60) scale(1.0000,1.1600)" font-family="Liberation Serif, serif" font-weight="bold" font-size="42">2</text>
<text transform="translate(276.50,606.60) scale(1.0000,1.1600)" font-family="Liberation Serif, serif" font-weight="bold" font-size="42">4</text>
<text transform="translate(336.75,606.60) scale(1.0000,1.1600)" font-family="Liberation Serif, serif" font-weight="bold" font-size="42">6</text>
<text transform="translate(397.00,606.60) scale(1.0000,1.1600)" font-family="Liberation Serif, serif" font-weight="bold" font-size="42">8</text>
<text transform="translate(448.25,606.60) scale(1.0000,1.1600)" font-family="Liberation Serif, serif" font-weight="bold" font-size="42">10</text>
<text transform="translate(508.50,606.60) scale(1.0000,1.1600)" font-family="Liberation Serif, serif" font-weight="bold" font-size="42">12</text>
<text transform="translate(568.25,606.60) scale(1.0000,1.1600)" font-family="Liberation Serif, serif" font-weight="bold" font-size="42">14</text>
<text transform="translate(628.50,606.60) scale(1.0000,1.1600)" font-family="Liberation Serif, serif" font-weight="bold" font-size="42">16</text>
<text transform="translate(688.75,606.60) scale(1.0000,1.1600)" font-family="Liberation Serif, serif" font-weight="bold" font-size="42">18</text>
<text transform="translate(750.00,606.60) scale(1.0000,1.1600)" font-family="Liberation Serif, serif" font-weight="bold" font-size="42">20</text>
<text transform="translate(190.96,108.85) scale(1.0182,0.9750)" font-family="Liberation Serif, serif" font-weight="bold" font-size="48">(b)</text>
<text transform="translate(332.62,650.76) scale(0.9787,1.0263)" font-family="Liberation Serif, serif" font-weight="bold" font-size="42">Frequency (THz)</text>
<text transform="translate(84.55,422.13) scale(0.9500,1.0143) rotate(-90)" font-family="Liberation Serif, serif" font-weight="bold" font-size="42">Output (mV)</text>
<text transform="translate(903.60,116.80) scale(1.0400,1.0000)" font-family="Liberation Sans, Arial, sans-serif" font-weight="normal" font-size="37">10</text>
<text transform="translate(925.58,279.60) scale(1.0400,1.0000)" font-family="Liberation Sans, Arial, sans-serif" font-weight="normal" font-size="37">1</text>
<text transform="translate(891.96,443.00) scale(1.0400,1.0000)" font-family="Liberation Sans, Arial, sans-serif" font-weight="normal" font-size="37">0.1</text>
<text transform="translate(944.30,580.80) scale(1.0400,1.0000)" font-family="Liberation Sans, Arial, sans-serif" font-weight="normal" font-size="37">0</text>
<text transform="translate(1102.48,580.80) scale(1.0400,1.0000)" font-family="Liberation Sans, Arial, sans-serif" font-weight="normal" font-size="37">5</text>
<text transform="translate(1249.74,580.80) scale(1.0400,1.0000)" font-family="Liberation Sans, Arial, sans-serif" font-weight="normal" font-size="37">10</text>
<text transform="translate(1408.96,580.80) scale(1.0400,1.0000)" font-family="Liberation Sans, Arial, sans-serif" font-weight="normal" font-size="37">15</text>
<text transform="translate(1567.66,580.80) scale(1.0400,1.0000)" font-family="Liberation Sans, Arial, sans-serif" font-weight="normal" font-size="37">20</text>
<text transform="translate(1110.04,629.03) scale(1.0550,1.0342)" font-family="Liberation Sans, Arial, sans-serif" font-weight="normal" font-size="41">Frequency (THz)</text>
<text transform="translate(882.62,485.02) scale(1.0474,1.0201) rotate(-90)" font-family="Liberation Sans, Arial, sans-serif" font-weight="normal" font-size="41">THz Intensity (a.u.)</text>
<text transform="translate(1497.67,87.90) scale(1.0299,1.0250)" font-family="Liberation Sans, Arial, sans-serif" font-weight="normal" font-size="29">OHI-T</text>
<text transform="translate(1497.73,123.90) scale(0.9737,1.0500)" font-family="Liberation Sans, Arial, sans-serif" font-weight="normal" font-size="29">OH1</text>
<text transform="translate(1801.36,70.94) scale(0.8800,0.8800)" font-family="Liberation Sans, Arial, sans-serif" font-weight="normal" font-size="36">1</text>
<text transform="translate(1771.10,329.60)" font-family="Liberation Sans, Arial, sans-serif" font-weight="normal" font-size="36">0.1</text>
<text transform="translate(1752.00,588.20)" font-family="Liberation Sans, Arial, sans-serif" font-weight="normal" font-size="36">0.01</text>
<text transform="translate(1816.80,610.10)" font-family="Liberation Sans, Arial, sans-serif" font-weight="normal" font-size="34">2</text>
<text transform="translate(1871.13,610.10)" font-family="Liberation Sans, Arial, sans-serif" font-weight="normal" font-size="34">4</text>
<text transform="translate(1925.47,610.10)" font-family="Liberation Sans, Arial, sans-serif" font-weight="normal" font-size="34">6</text>
<text transform="translate(1979.80,610.10)" font-family="Liberation Sans, Arial, sans-serif" font-weight="normal" font-size="34">8</text>
<text transform="translate(2024.93,610.10)" font-family="Liberation Sans, Arial, sans-serif" font-weight="normal" font-size="34">10</text>
<text transform="translate(2079.77,610.10)" font-family="Liberation Sans, Arial, sans-serif" font-weight="normal" font-size="34">12</text>
<text transform="translate(2133.60,610.10)" font-family="Liberation Sans, Arial, sans-serif" font-weight="normal" font-size="34">14</text>
<text transform="translate(2188.43,610.10)" font-family="Liberation Sans, Arial, sans-serif" font-weight="normal" font-size="34">16</text>
<text transform="translate(2242.77,610.10)" font-family="Liberation Sans, Arial, sans-serif" font-weight="normal" font-size="34">18</text>
<text transform="translate(2297.10,610.10)" font-family="Liberation Sans, Arial, sans-serif" font-weight="normal" font-size="34">20</text>
<text transform="translate(1914.02,655.88) scale(1.0268,1.0395)" font-family="Liberation Sans, Arial, sans-serif" font-weight="normal" font-size="41">Frequency (THz)</text>
<text transform="translate(1739.38,505.93) scale(1.0526,1.0259) rotate(-90)" font-family="Liberation Sans, Arial, sans-serif" font-weight="normal" font-size="41">THz Intensity (a.u.)</text>
<text transform="translate(1926.11,98.50) scale(1.0310,0.9577)" font-family="Liberation Sans, Arial, sans-serif" font-weight="normal" font-size="36">MBI</text>
<text transform="translate(1927.07,143.40) scale(0.9643,0.9654)" font-family="Liberation Sans, Arial, sans-serif" font-weight="normal" font-size="36">OH1</text>
<text transform="translate(11.35,62.45) scale(1.0132,1.0035)" font-family="Liberation Sans, Arial, sans-serif" font-weight="normal" font-size="62">(a)</text>
<text transform="translate(836.44,62.45) scale(1.0147,1.0035)" font-family="Liberation Sans, Arial, sans-serif" font-weight="normal" font-size="62">(b)</text>
<text transform="translate(1689.44,62.45) scale(1.0154,1.0035)" font-family="Liberation Sans, Arial, sans-serif" font-weight="normal" font-size="62">(c)</text>
</g>
</svg></body></html>
